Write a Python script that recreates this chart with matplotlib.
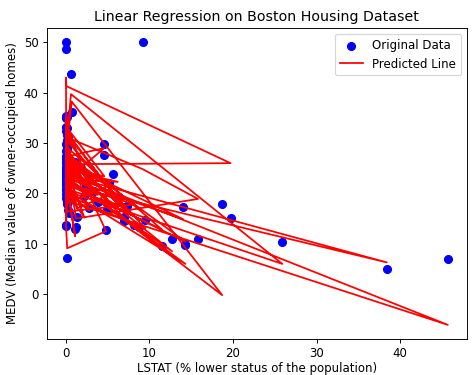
import matplotlib
matplotlib.use('Agg')
import matplotlib.pyplot as plt

# test-set rows in original order: LSTAT value, actual MEDV, predicted MEDV
lstat = [0.21, 0.06, 0.01, 0.06, 2.20, 0.32, 0.09, 45.7, 0.15, 0.02,
         4.60, 0.04, 0.05, 0.07, 38.4, 0.03, 0.19, 7.30, 0.03, 0.01,
         0.05, 19.7, 1.10, 0.11, 0.14, 14.3, 0.10, 0.05, 1.30, 5.60,
         0.26, 0.01, 0.15, 4.80, 0.08, 0.60, 25.9, 0.12, 0.04, 9.20,
         15.8, 1.20, 0.02, 0.70, 18.7, 2.40, 0.05, 1.10, 0.35, 0.09,
         8.80, 0.03, 0.16, 11.5, 0.07, 0.04, 4.90, 0.10, 12.7, 0.22,
         0.02, 7.00, 0.08, 0.13, 14.0, 0.05, 0.01, 9.50, 0.24, 0.06,
         4.60, 0.09, 0.11, 8.20, 0.04, 14.3, 0.17, 0.03, 5.10, 0.42,
         7.00, 0.06, 0.02, 3.30, 0.08, 0.12, 2.80, 0.05, 0.19, 6.20,
         0.03, 0.14, 1.80, 0.07, 0.10, 3.80, 0.04, 0.28, 0.06, 2.60,
         0.09, 0.02]
medv = [23.6, 32.4, 13.6, 22.8, 19.4, 16.1, 24.8, 6.9, 18.5, 20.6,
        29.8, 25.0, 35.4, 19.3, 5.0, 22.0, 31.1, 17.5, 27.5, 50.0,
        48.6, 15.1, 26.2, 20.3, 24.4, 9.9, 22.9, 34.9, 15.3, 23.8,
        21.4, 13.7, 7.1, 12.7, 28.7, 43.6, 10.3, 20.0, 29.8, 50.0,
        10.9, 13.3, 26.4, 36.2, 17.9, 21.7, 23.3, 12.9, 19.9, 29.0,
        13.3, 24.6, 18.9, 9.5, 30.5, 21.7, 16.9, 26.6, 10.9, 20.1,
        33.2, 15.3, 19.6, 23.1, 17.2, 25.2, 28.4, 14.7, 18.2, 22.2,
        27.6, 31.6, 17.8, 13.7, 21.9, 9.7, 24.1, 19.1, 22.0, 26.7,
        14.5, 20.9, 23.9, 20.5, 29.4, 18.7, 17.0, 27.1, 22.6, 19.0,
        24.3, 21.2, 25.0, 32.9, 20.4, 18.3, 23.5, 16.7, 26.0, 21.0,
        35.1, 19.8]
pred = [28.6, 35.3, 14.5, 25.0, 15.2, 19.8, 23.9, -6.1, 18.5, 22.6,
        29.0, 27.3, 34.0, 21.6, 6.3, 23.6, 32.0, 16.2, 27.8, 43.0,
        41.3, 26.0, 25.8, 21.0, 23.1, 6.0, 20.6, 30.4, 17.0, 20.1,
        24.1, 13.5, 9.1, 12.5, 29.5, 39.7, 6.0, 20.4, 31.2, 24.8,
        18.9, 15.0, 28.2, 38.2, -0.2, 20.5, 22.0, 11.5, 19.2, 26.5,
        14.6, 27.1, 21.8, 12.8, 29.2, 24.4, 19.0, 25.3, 8.5, 22.9,
        31.9, 17.4, 20.8, 26.0, 14.9, 23.0, 30.6, 13.0, 19.5, 24.8,
        23.4, 33.1, 16.4, 17.8, 22.1, 10.4, 27.6, 18.0, 21.5, 25.6,
        15.1, 22.5, 26.7, 23.2, 28.4, 20.2, 16.6, 30.0, 24.6, 22.3,
        22.7, 19.3, 27.0, 31.4, 21.9, 19.7, 25.4, 18.1, 28.8, 22.4,
        33.6, 21.3]

# reference looks like a scaled-down default figure, so shrink via dpi
dpi = 84.5
fig = plt.figure(figsize=(474 / dpi, 375 / dpi), dpi=dpi)
ax = fig.add_subplot(111)
ax.scatter(lstat, medv, color='blue', s=45, label='Original Data')
ax.plot(lstat, pred, color='red', linewidth=1.5, label='Predicted Line')
ax.set_title('Linear Regression on Boston Housing Dataset')
ax.set_xlabel('LSTAT (% lower status of the population)', labelpad=1.5)
ax.set_ylabel('MEDV (Median value of owner-occupied homes)')
ax.legend(loc='upper right')
fig.subplots_adjust(left=0.099, right=0.985, top=0.925, bottom=0.096)
fig.savefig('out.png', dpi=dpi)
